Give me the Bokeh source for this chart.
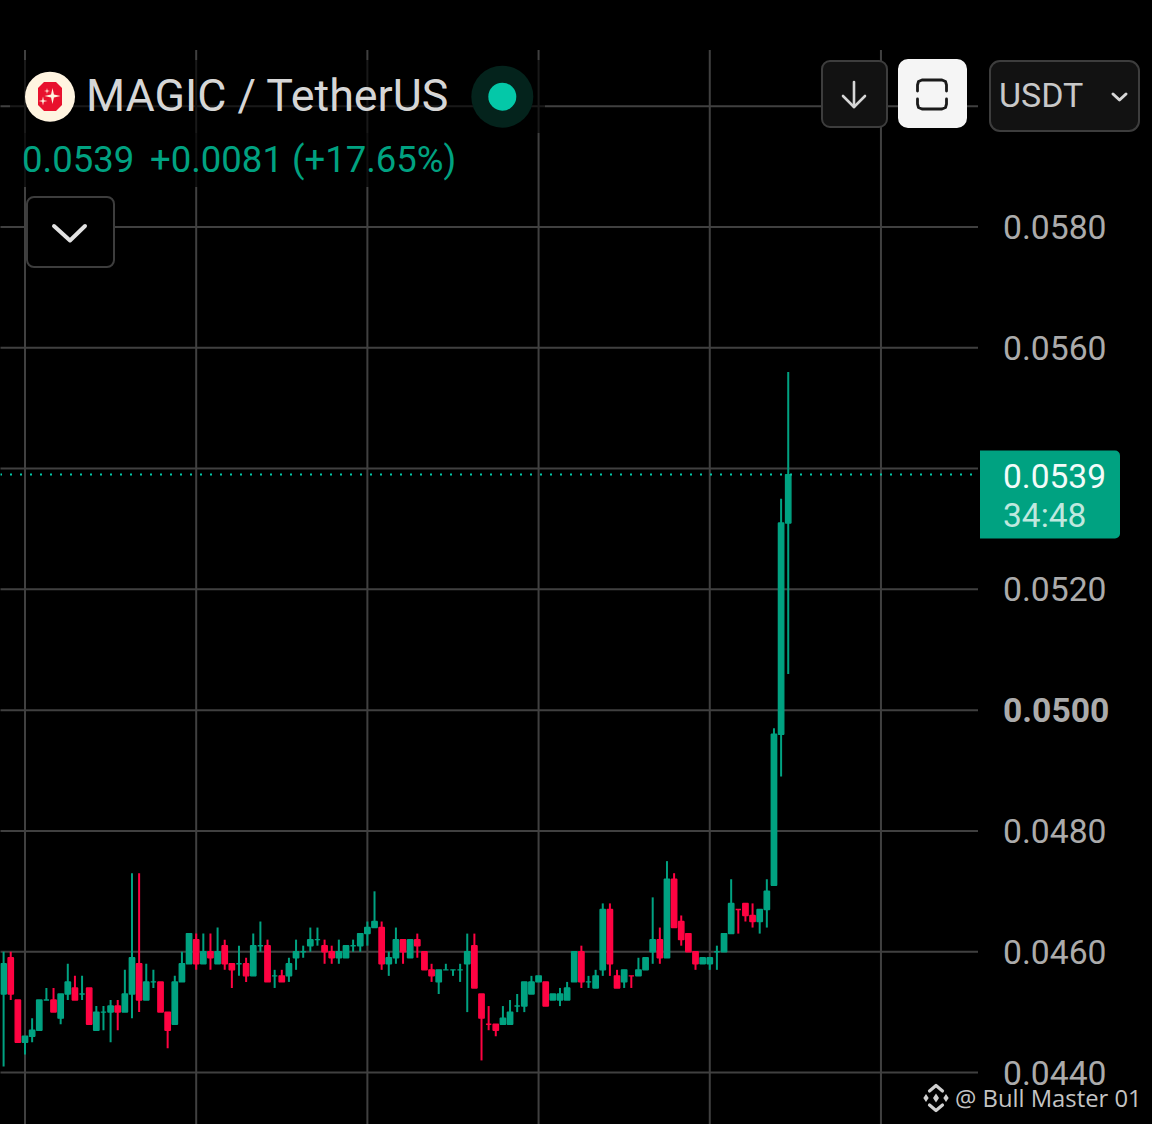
from bokeh.models import Range1d, LinearAxis, FixedTicker, Label, BoxAnnotation, ColumnDataSource, NumeralTickFormatter
from bokeh.plotting import figure
from bokeh.embed import file_html
from bokeh.resources import INLINE

# --- data (prices in units of 0.0001 USDT) ---
open_ = [453,459,452,445,446,447,452,452,449,453,454,453,454,447,450,450,451,450,453,458,
         452,455,455,450,448,455,458,462,458,460,458,461,458,458,458,456,461,461,456,456,
         456,459,460,461,462,461,460,459,459,461,461,463,464,464,458,459,462,459,462,460,
         457,455,457,457,457,458,461,453,448,448,448,448,451,451,453,455,455,452,452,452,
         455,460,455,454,457,467,456,455,456,456,457,460,462,459,472,465,463,460,458,458,
         460,460,463,467,468,466,465,467,471,496,531]
high = [460,460,452,446,449,452,454,454,453,458,456,456,454,451,451,452,452,457,473,473,
        458,457,455,450,456,460,463,463,463,463,464,462,458,461,459,463,465,462,457,457,
        459,462,461,464,464,462,461,462,461,462,463,465,470,465,460,464,462,462,463,460,
        458,457,458,457,458,463,463,453,451,448,451,452,453,455,456,456,455,453,454,455,
        460,461,456,457,468,468,457,457,456,459,459,469,464,475,473,466,463,460,459,459,
        461,463,472,467,468,468,467,472,497,535,556]
low = [441,452,445,443,445,447,452,450,448,452,452,452,448,447,447,445,447,450,449,450,
       452,454,450,444,448,455,458,457,458,457,458,457,454,456,455,456,460,455,454,455,
       455,457,459,460,461,458,458,458,459,460,460,461,464,457,456,458,458,459,459,457,
       455,453,457,456,455,450,454,442,447,446,448,448,450,450,453,455,451,452,451,452,
       455,454,454,454,456,456,454,454,454,456,457,458,458,459,464,461,460,457,458,457,
       457,460,463,463,465,464,463,464,471,489,506]
close = [458,453,445,446,447,452,452,450,453,455,452,453,448,450,450,451,450,453,459,452,
         455,455,450,447,455,458,463,458,460,459,460,458,457,458,456,461,461,455,456,455,
         458,460,460,462,462,460,459,460,461,461,463,464,465,458,459,462,460,462,461,457,
         456,457,457,457,457,460,454,449,448,447,449,450,451,455,455,456,451,453,453,454,
         460,455,455,456,467,458,454,457,456,457,459,462,459,472,464,462,460,458,459,459,
         460,463,468,467,466,465,467,470,496,531,539]
UNIT = 0.0001
y_ticks = [0.0440,0.0460,0.0480,0.0500,0.0520,0.0540,0.0560,0.0580,0.0600]
label_ticks = [0.0440,0.0460,0.0480,0.0520,0.0560,0.0580]
bold_ticks = [0.0500]
x_ticks = [3,27,51,75,99,123]
last_price = 0.0539
title = "MAGIC / TetherUS"
price_txt = "0.0539"
change_txt = "+0.0081 (+17.65%)"
countdown = "34:48"
quote = "USDT"
watermark = "@ Bull Master 01"

GREEN = "#00A281"; RED = "#FF0342"; GRID = "#404040"; TICK = "#ABABAB"; FONT = "Roboto"
W, H = 1152, 1124

# pixel <-> data helpers for the page furniture
def X(px): return 3 + (px - 25) / 7.133
def Y(py): return 0.0580 - (py - 227) / 60393.0

p = figure(width=W, height=H, output_backend="svg", toolbar_location=None,
           x_range=Range1d(X(0.5), X(W + 0.5)), y_range=Range1d(Y(H + 0.5), Y(0.5)),
           min_border=0, min_border_left=0, min_border_right=0, min_border_top=0, min_border_bottom=0,
           background_fill_color="#000000", border_fill_color="#000000",
           outline_line_color=None, x_axis_location=None, y_axis_location=None,
           styles={"background-color": "#000000"})
p.grid.visible = False

# grid
p.segment(x0=x_ticks, x1=x_ticks, y0=[Y(H)]*len(x_ticks), y1=[Y(50)]*len(x_ticks),
          line_color=GRID, line_width=2, level="underlay")
p.segment(x0=[X(-2)]*len(y_ticks), x1=[X(978)]*len(y_ticks), y0=y_ticks, y1=y_ticks,
          line_color=GRID, line_width=2, level="underlay")

# candles
n = len(close)
idx = list(range(n))
red_doji = {68, 88, 103}
cols = [(RED if (c < o or i in red_doji) else GREEN) for i,(o,c) in enumerate(zip(open_,close))]
src = ColumnDataSource(dict(x=idx,
    o=[v*UNIT for v in open_], h=[v*UNIT for v in high], l=[v*UNIT for v in low], c=[v*UNIT for v in close],
    top=[max(a,b)*UNIT for a,b in zip(open_,close)], bot=[min(a,b)*UNIT for a,b in zip(open_,close)], col=cols))
p.segment(x0="x", x1="x", y0="l", y1="h", source=src, line_color="col", line_width=2)
p.vbar(x="x", width=0.75, top="top", bottom="bot", source=src, fill_color="col", line_color="col", line_width=1.4)

# last price line
p.line([X(0), X(978)], [last_price, last_price], line_color="#00C9A7", line_width=2, line_dash="2 8")

# price axis
ax = LinearAxis(ticker=FixedTicker(ticks=label_ticks), formatter=NumeralTickFormatter(format="0.0000"),
                fixed_location=X(978), axis_line_color=None, major_tick_line_color=None, minor_tick_line_color=None,
                major_label_text_font=FONT, major_label_text_font_size="33.7px", major_label_text_color=TICK,
                major_label_standoff=19)
p.add_layout(ax, "right")
ax2 = LinearAxis(ticker=FixedTicker(ticks=bold_ticks), formatter=NumeralTickFormatter(format="0.0000"),
                fixed_location=X(978), axis_line_color=None, major_tick_line_color=None, minor_tick_line_color=None,
                major_label_text_font=FONT, major_label_text_font_size="33.7px", major_label_text_color=TICK,
                major_label_text_font_style="bold", major_label_standoff=19)
p.add_layout(ax2, "right")

def box(x0, y0, x1, y1, fill, line=None, r=0, alpha=1.0, lw=2):
    b = BoxAnnotation(left=X(x0), right=X(x1), top=Y(y0), bottom=Y(y1), fill_color=fill, fill_alpha=alpha,
                      line_color=line, line_width=lw, line_alpha=1.0 if line else 0, border_radius=r, level="annotation")
    p.add_layout(b)

def text(x, y, t, size, color, font=FONT, style="normal"):
    p.add_layout(Label(x=X(x), y=Y(y), text=t, text_font=font, text_font_size=f"{size}px", text_color=color,
                       text_font_style=style, text_baseline="middle", text_align="left"))

def stroke(xs, ys, color, lw):
    p.line([X(a) for a in xs], [Y(b) for b in ys], line_color=color, line_width=lw, line_cap="round",
           line_join="round", level="overlay")

def sparkle(cx, cy, r, color):
    k = r * 0.18
    xs = [cx, cx+k, cx+r, cx+k, cx, cx-k, cx-r, cx-k]
    ys = [cy-r, cy-k, cy, cy+k, cy+r, cy+k, cy, cy-k]
    p.patch([X(a) for a in xs], [Y(b) for b in ys], fill_color=color, line_color=None, level="overlay")

# legend backdrops
box(10, 60, 545, 133, "#000000", alpha=0.6)
box(10, 133, 470, 187, "#000000", alpha=0.75)

# coin icon
p.scatter([X(50)], [Y(96.7)], size=50, marker="circle", fill_color="#FFF4E0", line_color=None, level="overlay")
p.patch([X(a) for a in (44,56,62,62,56,44,38,38)], [Y(b) for b in (82,82,88,105,111,111,105,88)],
        fill_color="#E8112D", line_color=None, level="overlay")
sparkle(52.5, 96, 8, "#FFF4E0")
sparkle(43, 101, 4.5, "#FFF4E0")
sparkle(47, 91, 3, "#FFF4E0")
# status dot
p.scatter([X(502.3)], [Y(96.7)], size=62, marker="circle", fill_color="#04231C", line_color=None, level="overlay")
p.scatter([X(502.3)], [Y(96.7)], size=28, marker="circle", fill_color="#04C8A8", line_color=None, level="overlay")

text(86, 95.5, title, 44.8, "#D6D6D6")
text(22, 159, price_txt, 36.5, GREEN)
text(150, 159, change_txt, 36.5, GREEN)

# buttons
box(27, 197, 114, 267, "#000000", "#3d3d3d", r=7)
stroke([54, 70, 85], [226, 240.5, 226], "#E2E2E2", 4)
box(822, 61, 887, 127, "#121212", "#3d3d3d", r=8)
stroke([854, 854], [82, 107], "#D6D6D6", 2.6)
stroke([843, 854, 865], [96, 107, 96], "#D6D6D6", 2.6)
box(899, 60, 966, 127, "#F5F5F5", "#F5F5F5", r=9)
stroke([917.5, 917.5, 918.5, 922, 942, 945.5, 946.5, 946.5], [91, 85, 81.5, 80, 80, 81.5, 85, 91], "#1A1A1A", 2.8)
stroke([917.5, 917.5, 918.5, 922, 942, 945.5, 946.5, 946.5], [99, 104, 107.5, 109, 109, 107.5, 104, 99], "#1A1A1A", 2.8)
box(990, 61, 1139, 131, "#121212", "#3d3d3d", r=10)
text(999, 95, quote, 34, "#C8C8C8")
stroke([1113, 1119.5, 1126], [94, 100, 94], "#D6D6D6", 3)

# last price tag
box(980, 450.5, 1120, 538.5, GREEN, r=(0, 5, 5, 0))
text(1003, 476, price_txt, 33.5, "#F2FBF9")
text(1003, 515, countdown, 33.5, "#BFE8DE")

# watermark
text(955, 1098, watermark, 23.8, "#C4C4C4", font="Open Sans")
stroke([929.5, 936, 942.5], [1091, 1085.5, 1091], "#D0D0D0", 3.2)
stroke([929.5, 936, 942.5], [1105, 1110.5, 1105], "#D0D0D0", 3.2)
p.scatter([X(936), X(926), X(946)], [Y(1098)]*3, size=[9, 8, 8], marker="diamond", fill_color="#D0D0D0",
          line_color=None, level="overlay")

open("out.html", "w").write(file_html(p, INLINE))
